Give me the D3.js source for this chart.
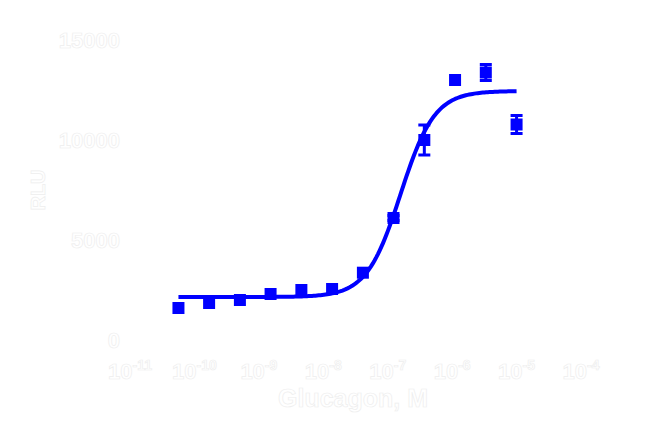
<!DOCTYPE html>
<html><head><meta charset="utf-8">
<script src="https://cdn.jsdelivr.net/npm/d3@7"></script>
<style>body{margin:0;background:#fff}svg{display:block}</style>
</head><body>
<div id="chart"></div>
<script>
const concentrations = [5.65e-11, 1.69e-10, 5.08e-10, 1.52e-9, 4.57e-9, 1.37e-8, 4.12e-8, 1.23e-7, 3.70e-7, 1.11e-6, 3.33e-6, 1.0e-5];
const rluValues =      [1600, 1850, 2000, 2300, 2500, 2550, 3365, 6100, 10000, 13000, 13375, 10775];
const rluErrors =      [0, 0, 0, 0, 0, 0, 0, 125, 750, 0, 400, 450];
const xTickExponents = [-11, -10, -9, -8, -7, -6, -5, -4];
const yTickValues = [0, 5000, 10000, 15000];
const fitBottom = 2150, fitTop = 12450, fitLogEC50 = -6.80, fitHill = 1.65;

const W = 650, H = 435;
const svg = d3.select("#chart").append("svg").attr("width", W).attr("height", H);
const x = d3.scaleLog().domain([1e-11, 1e-4]).range([130, 581]);
const y = d3.scaleLinear().domain([0, 15000]).range([340, 40]);

const textFill = "#ffffff", textStroke = "#eeeeee", sw = 0.7;
const font = "'Liberation Sans', Arial, sans-serif";

// invisible (white) axes
svg.append("g").attr("transform", "translate(0,350)")
  .call(d3.axisBottom(x).tickValues(xTickExponents.map(e => Math.pow(10, e))).tickFormat(""))
  .call(g => g.selectAll("path,line").attr("stroke", "#fff"));
svg.append("g").attr("transform", "translate(135,0)")
  .call(d3.axisLeft(y).tickValues(yTickValues).tickFormat(""))
  .call(g => g.selectAll("path,line").attr("stroke", "#fff"));

// y tick labels
svg.selectAll(".ylab").data(yTickValues).enter().append("text")
  .attr("x", 120).attr("y", d => y(d)).attr("dy", "0.36em")
  .attr("text-anchor", "end").attr("font-family", font).attr("font-weight", "bold")
  .attr("font-size", 22).attr("fill", textFill).attr("stroke", textStroke).attr("stroke-width", sw)
  .text(d => d);

// x tick labels
const xl = svg.selectAll(".xlab").data(xTickExponents).enter().append("text")
  .attr("x", d => x(Math.pow(10, d))).attr("y", 379)
  .attr("text-anchor", "middle").attr("font-family", font).attr("font-weight", "bold")
  .attr("font-size", 22).attr("fill", textFill).attr("stroke", textStroke).attr("stroke-width", sw);
xl.append("tspan").text("10");
xl.append("tspan").attr("dy", -9).attr("font-size", 14).text(d => "-" + Math.abs(d));

// axis titles
svg.append("text").attr("x", 353).attr("y", 407).attr("text-anchor", "middle")
  .attr("font-family", font).attr("font-weight", "bold").attr("font-size", 25)
  .attr("fill", textFill).attr("stroke", textStroke).attr("stroke-width", sw)
  .text("Glucagon, M");
svg.append("text").attr("transform", "translate(45,190) rotate(-90)").attr("text-anchor", "middle")
  .attr("font-family", font).attr("font-weight", "bold").attr("font-size", 20)
  .attr("fill", textFill).attr("stroke", textStroke).attr("stroke-width", sw)
  .text("RLU");

const blue = "#0000ff";
// fitted curve
const lo = Math.log10(concentrations[0]), hi = Math.log10(concentrations[concentrations.length - 1]);
const curvePts = d3.range(0, 201).map(i => lo + (hi - lo) * i / 200);
const fit = l => fitBottom + (fitTop - fitBottom) / (1 + Math.pow(10, (fitLogEC50 - l) * fitHill));
svg.append("path").datum(curvePts)
  .attr("d", d3.line().x(l => x(Math.pow(10, l))).y(l => y(fit(l))))
  .attr("fill", "none").attr("stroke", blue).attr("stroke-width", 4);

// error bars
const data = concentrations.map((c, i) => ({c, v: rluValues[i], e: rluErrors[i]})).filter(d => d.e > 0);
const eb = svg.append("g").attr("stroke", blue).attr("stroke-width", 3);
eb.selectAll(".stem").data(data).enter().append("line")
  .attr("x1", d => x(d.c)).attr("x2", d => x(d.c))
  .attr("y1", d => y(d.v - d.e)).attr("y2", d => y(d.v + d.e));
eb.selectAll(".capt").data(data).enter().append("line")
  .attr("x1", d => x(d.c) - 6).attr("x2", d => x(d.c) + 6)
  .attr("y1", d => y(d.v + d.e)).attr("y2", d => y(d.v + d.e));
eb.selectAll(".capb").data(data).enter().append("line")
  .attr("x1", d => x(d.c) - 6).attr("x2", d => x(d.c) + 6)
  .attr("y1", d => y(d.v - d.e)).attr("y2", d => y(d.v - d.e));

// markers
const s = 12;
svg.selectAll(".pt").data(concentrations).enter().append("rect")
  .attr("x", (c) => x(c) - s / 2).attr("y", (c, i) => y(rluValues[i]) - s / 2)
  .attr("width", s).attr("height", s).attr("fill", blue);
</script>
</body></html>
